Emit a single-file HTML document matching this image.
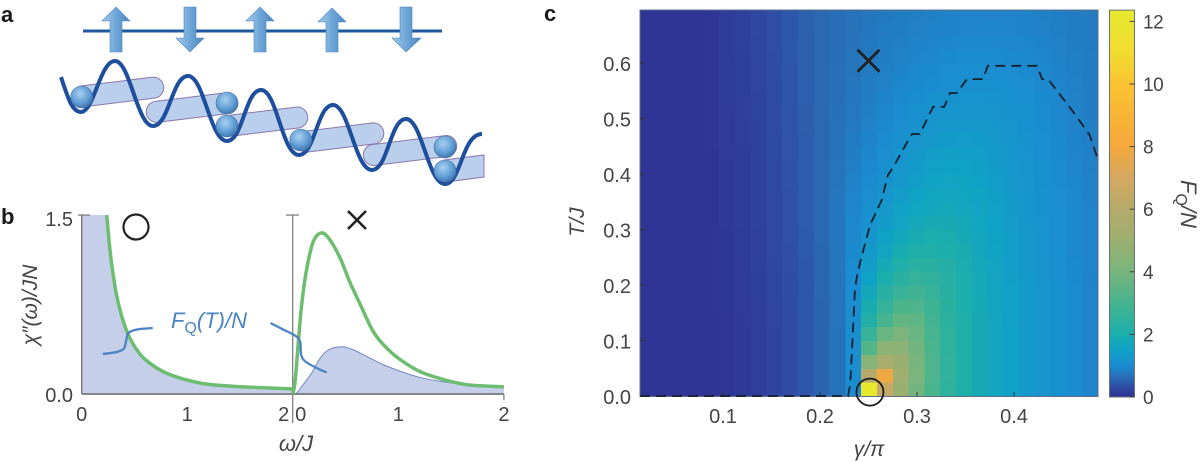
<!DOCTYPE html>
<html lang="en">
<head>
<meta charset="utf-8">
<title>Quantum Fisher information figure</title>
<style>
html,body{margin:0;padding:0;background:#fff;width:1200px;height:462px;overflow:hidden}
svg{display:block}
text{font-family:"Liberation Sans",sans-serif;fill:#444}
.lbl{font-size:20px}
.ital{font-style:italic}
.panel{font-size:22px;font-weight:bold;fill:#1a1a1a}
</style>
</head>
<body>
<svg id="fig" xmlns="http://www.w3.org/2000/svg" width="1200" height="462" viewBox="0 0 1200 462">
<defs>
<linearGradient id="arrowGrad" x1="0" x2="1" y1="0" y2="0"><stop offset="0" stop-color="#a4cae9"/><stop offset=".5" stop-color="#6ea6d8"/><stop offset="1" stop-color="#4a86c0"/></linearGradient>
<radialGradient id="ballGrad" cx=".42" cy=".35" r=".7"><stop offset="0" stop-color="#a9d0ef"/><stop offset=".6" stop-color="#5f9ed6"/><stop offset="1" stop-color="#3c6fa8"/></radialGradient>
<clipPath id="heatClip"><rect x="640" y="10" width="458" height="386"/></clipPath>
</defs>

<text class="panel" x="1" y="22">a</text>
<text class="panel" x="1" y="224">b</text>
<text class="panel" x="544" y="21">c</text>

<g>
  <g fill="#b9cfeb" stroke="#8b76ad" stroke-width="1">
    <rect x="72" y="81.5" width="92" height="21" rx="10.5" transform="rotate(-7 118 92)"/>
    <rect x="146" y="97" width="92" height="21" rx="10.5" transform="rotate(-7 192 107.5)"/>
    <rect x="222" y="111" width="86" height="21" rx="10.5" transform="rotate(-7 265 121.5)"/>
    <rect x="296" y="127" width="88" height="21" rx="10.5" transform="rotate(-7 340 137)"/>
    <rect x="363" y="140" width="94" height="21" rx="10.5" transform="rotate(-7 410 150.5)"/>
    <path d="M444 160 L484 155 L484 177 L446 182 Z"/>
  </g>
  <line x1="83" y1="31" x2="442" y2="31" stroke="#1f5aa0" stroke-width="3"/>
  <g fill="url(#arrowGrad)" stroke="#4a86c0" stroke-width=".6">
    <path d="M116 7 L130 21 L122 21 L122 52 L110 52 L110 21 L102 21 Z"/>
    <path d="M184 7 L196 7 L196 38 L204 38 L190 52 L176 38 L184 38 Z"/>
    <path d="M260 7 L274 21 L266 21 L266 52 L254 52 L254 21 L246 21 Z"/>
    <path d="M332 8 L346 22 L338 22 L338 52 L326 52 L326 22 L318 22 Z"/>
    <path d="M400 7 L412 7 L412 38 L421 38 L406 52 L392 38 L400 38 Z"/>
  </g>
  <path d="M61 77 C68 98 72 112 81 112 C94 112 100 61 115 61 C130 61 137 126 153 126 C169 126 172 76 188 76 C204 76 210 141 227 141 C243 141 245 90 261 90 C277 90 282 155 299 155 C315 155 317 105 333 105 C349 105 355 170 372 170 C388 170 390 119 406 119 C422 119 428 184 445 184 C461 184 462 134 482 134" fill="none" stroke="#1e4f9c" stroke-width="4"/>
  <g fill="url(#ballGrad)" stroke="#4d6f9c" stroke-width=".6">
    <circle cx="81.7" cy="97" r="11"/>
    <circle cx="227" cy="103" r="11"/>
    <circle cx="227" cy="126" r="11"/>
    <circle cx="300.7" cy="140" r="11"/>
    <circle cx="445" cy="147" r="11"/>
    <circle cx="445" cy="171" r="11"/>
  </g>
</g>

<g id="panelB"></g>
<g id="panelC"></g>
</svg>

<script>
/* ---------- panel b data ---------- */
const leftGreenOmega  = [0.237,0.27,0.30,0.33,0.38,0.44,0.50,0.60,0.80,1.12,1.44,2.0];
const leftGreenChi    = [1.5,1.19,0.99,0.83,0.65,0.50,0.40,0.29,0.176,0.092,0.064,0.042];
const rightGreenOmega = [0,0.022,0.054,0.085,0.133,0.196,0.275,0.354,0.449,0.54,0.64,0.765,0.89,1.02,1.2,1.4,1.65,2.0];
const rightGreenChi   = [0,0.1,0.44,0.75,1.05,1.28,1.35,1.29,1.14,0.94,0.75,0.52,0.385,0.287,0.19,0.128,0.078,0.06];
const rightFillOmega  = [0,0.04,0.1,0.18,0.26,0.34,0.465,0.575,0.7,0.86,1.02,1.2,1.4,1.65,2.0];
const rightFillChi    = [0,0.01,0.08,0.176,0.30,0.37,0.396,0.37,0.315,0.245,0.19,0.14,0.106,0.078,0.058];
const fqLeftOmega     = [0.2,0.332,0.40,0.42,0.442,0.52,0.673];
const fqLeftChi       = [0.335,0.352,0.38,0.44,0.51,0.54,0.553];
const fqRightOmega    = [-0.21,-0.09,0.022,0.07,0.08,0.117,0.227,0.322];
const fqRightChi      = [0.595,0.54,0.49,0.44,0.33,0.274,0.218,0.18];
const omegaTicks      = [0,1,2];
const chiTicks        = [0,1.5];
const chiTickLabels   = ["0.0","1.5"];

/* ---------- panel c data ---------- */
const gammaTicks = [0.1,0.2,0.3,0.4];
const gammaTickLabels = ["0.1","0.2","0.3","0.4"];
const tempTicks = [0,0.1,0.2,0.3,0.4,0.5,0.6];
const tempTickLabels = ["0.0","0.1","0.2","0.3","0.4","0.5","0.6"];
const colorbarTicks = [0,2,4,6,8,10,12];
const colorbarLabels = ["0","2","4","6","8","10","12"];
const gammaStart = 0.0144;
const gammaStep = 0.01629;
const tempStep = 0.025;
const cmapValues = [0,0.3,0.6,1,1.5,2,3,4,5,6,7,8,9,10,11,12.36];
const cmapColors = ["#2e3192","#2f4ba2","#2a6ab3","#1b8cd0","#10a2c6","#1aaeac","#45b48f","#78b57c","#9bb070","#b5aa6b","#d4a860","#f5a83c","#f8b435","#f9c330","#f0dc30","#e8e92f"];
const contourGamma = [0.0144,0.229,0.231,0.232,0.234,0.236,0.238,0.242,0.2515,0.2636,0.27,0.275,0.291,0.295,0.303,0.3165,0.328,0.334,0.341,0.3515,0.368,0.373,0.4237,0.429,0.435,0.461,0.478,0.4856];
const contourTemp  = [0,0,0.02,0.047,0.119,0.191,0.215,0.245,0.308,0.353,0.398,0.411,0.461,0.472,0.472,0.521,0.521,0.546,0.546,0.571,0.571,0.595,0.595,0.571,0.571,0.512,0.470,0.431];
const circleMarker = [0.2515,0.007];
const crossMarker = [0.25,0.604];

/* rows run from T=0 upward; columns from gamma=0.014 rightward */
const heatValues = [
[.05,.05,.05,.05,.05,.07,.1,.15,.22,.3,.42,.55,.7,1.0,12.3,6.5,5.0,3.9,3.1,2.5,2.1,1.85,1.65,1.48,1.33,1.2,1.1,1.0,.92],
[.05,.05,.05,.05,.05,.07,.1,.15,.22,.3,.42,.55,.7,1.05,6.0,7.8,5.2,4.1,3.2,2.55,2.1,1.85,1.65,1.48,1.33,1.2,1.1,1.0,.92],
[.05,.05,.05,.05,.05,.07,.1,.15,.22,.3,.42,.55,.7,1.05,4.4,5.5,5.0,4.0,3.2,2.55,2.1,1.85,1.65,1.48,1.33,1.2,1.1,1.0,.92],
[.05,.05,.05,.05,.05,.07,.1,.15,.22,.3,.42,.55,.7,1.05,3.3,4.6,4.6,3.9,3.1,2.5,2.1,1.85,1.65,1.48,1.33,1.2,1.1,1.0,.92],
[.05,.05,.05,.05,.05,.07,.1,.15,.22,.3,.42,.55,.7,1.05,2.7,3.7,4.1,3.7,3.0,2.5,2.1,1.85,1.65,1.48,1.33,1.2,1.1,1.0,.92],
[.05,.05,.05,.05,.05,.07,.1,.16,.23,.3,.42,.55,.72,1.05,2.2,3.0,3.6,3.5,2.9,2.45,2.1,1.85,1.65,1.46,1.32,1.2,1.08,1.0,.92],
[.05,.05,.05,.05,.05,.08,.11,.16,.23,.31,.43,.55,.72,1.05,1.9,2.6,3.1,3.2,2.8,2.4,2.05,1.82,1.63,1.46,1.32,1.2,1.08,1.0,.92],
[.05,.05,.05,.05,.05,.08,.11,.17,.24,.32,.43,.56,.72,1.02,1.7,2.3,2.7,2.9,2.65,2.35,2.05,1.8,1.62,1.45,1.32,1.2,1.08,1.0,.92],
[.05,.05,.05,.05,.05,.08,.12,.17,.24,.32,.44,.56,.73,1.0,1.5,2.0,2.4,2.6,2.5,2.3,2.0,1.78,1.6,1.44,1.31,1.19,1.07,.99,.91],
[.05,.05,.05,.05,.05,.09,.12,.18,.25,.33,.44,.57,.74,1.0,1.38,1.8,2.1,2.35,2.35,2.2,1.95,1.75,1.58,1.42,1.3,1.18,1.06,.98,.9],
[.05,.05,.05,.05,.05,.09,.13,.18,.26,.34,.45,.57,.74,.98,1.28,1.6,1.9,2.1,2.15,2.05,1.9,1.72,1.55,1.41,1.29,1.17,1.06,.97,.9],
[.05,.05,.05,.05,.05,.09,.13,.19,.26,.35,.45,.58,.75,.95,1.2,1.48,1.72,1.9,2.0,1.95,1.82,1.68,1.52,1.4,1.28,1.16,1.05,.97,.9],
[.05,.05,.05,.05,.05,.1,.14,.2,.27,.35,.46,.58,.75,.95,1.12,1.35,1.58,1.75,1.85,1.85,1.75,1.62,1.5,1.38,1.26,1.15,1.05,.97,.9],
[.05,.05,.05,.05,.05,.1,.14,.2,.28,.36,.46,.58,.75,.92,1.08,1.28,1.48,1.62,1.72,1.75,1.68,1.58,1.46,1.35,1.25,1.14,1.04,.96,.9],
[.05,.05,.05,.05,.05,.1,.14,.2,.28,.36,.46,.58,.74,.9,1.04,1.2,1.38,1.52,1.62,1.66,1.62,1.54,1.44,1.33,1.22,1.12,1.02,.95,.88],
[.05,.05,.05,.05,.05,.1,.14,.2,.28,.37,.47,.58,.73,.88,1.0,1.14,1.3,1.44,1.54,1.58,1.56,1.48,1.4,1.3,1.2,1.1,1.0,.94,.88],
[.05,.05,.05,.05,.05,.1,.14,.2,.28,.37,.47,.58,.72,.85,.97,1.08,1.22,1.36,1.45,1.5,1.5,1.44,1.36,1.27,1.18,1.08,1.0,.93,.87],
[.05,.05,.05,.05,.06,.11,.14,.2,.29,.38,.47,.58,.71,.83,.94,1.04,1.16,1.28,1.38,1.43,1.44,1.4,1.32,1.24,1.16,1.07,.99,.92,.86],
[.05,.05,.05,.05,.07,.12,.15,.21,.29,.38,.47,.58,.7,.81,.91,1.0,1.1,1.2,1.3,1.36,1.38,1.35,1.28,1.21,1.13,1.05,.98,.91,.85],
[.05,.05,.05,.05,.07,.12,.15,.21,.3,.39,.48,.58,.69,.79,.88,.97,1.05,1.14,1.22,1.28,1.3,1.29,1.24,1.18,1.1,1.03,.97,.9,.85],
[.05,.05,.05,.05,.07,.12,.16,.22,.3,.39,.48,.58,.68,.77,.86,.94,1.01,1.08,1.15,1.2,1.23,1.22,1.19,1.14,1.08,1.01,.95,.89,.84],
[.05,.05,.05,.05,.07,.13,.16,.22,.31,.4,.49,.58,.67,.75,.84,.91,.98,1.03,1.08,1.13,1.16,1.16,1.14,1.1,1.05,.99,.94,.88,.84],
[.05,.05,.05,.05,.07,.13,.17,.23,.31,.4,.49,.58,.66,.74,.82,.88,.94,.99,1.03,1.07,1.09,1.1,1.09,1.06,1.02,.97,.92,.87,.83],
[.05,.05,.05,.05,.07,.13,.17,.23,.32,.41,.5,.58,.66,.73,.8,.86,.91,.96,.99,1.02,1.04,1.05,1.04,1.02,.99,.95,.91,.86,.82],
[.05,.05,.05,.05,.07,.14,.17,.24,.32,.42,.5,.58,.65,.72,.78,.84,.88,.92,.95,.98,1.0,1.0,1.0,.98,.96,.93,.89,.85,.82],
[.05,.05,.05,.05,.07,.14,.18,.24,.33,.42,.5,.58,.65,.71,.77,.82,.86,.89,.92,.94,.96,.96,.96,.95,.93,.91,.87,.84,.81],
[.05,.05,.05,.05,.07,.14,.18,.25,.33,.43,.51,.58,.65,.7,.75,.8,.84,.87,.89,.91,.92,.93,.93,.92,.91,.88,.86,.83,.8],
[.05,.05,.05,.05,.07,.14,.18,.25,.34,.43,.51,.58,.65,.7,.74,.78,.82,.85,.87,.89,.9,.9,.9,.9,.89,.87,.85,.82,.8]
];

const NS = "http://www.w3.org/2000/svg";
function mk(parent, tag, attrs, txt) {
  const el = document.createElementNS(NS, tag);
  for (const k in attrs) el.setAttribute(k, attrs[k]);
  if (txt !== undefined) el.textContent = txt;
  parent.appendChild(el);
  return el;
}
function smooth(pts) {
  let d = "M" + pts[0][0].toFixed(2) + " " + pts[0][1].toFixed(2);
  for (let i = 0; i < pts.length - 1; i++) {
    const p0 = pts[Math.max(i - 1, 0)], p1 = pts[i], p2 = pts[i + 1], p3 = pts[Math.min(i + 2, pts.length - 1)];
    const c1x = p1[0] + (p2[0] - p0[0]) / 6, c1y = p1[1] + (p2[1] - p0[1]) / 6;
    const c2x = p2[0] - (p3[0] - p1[0]) / 6, c2y = p2[1] - (p3[1] - p1[1]) / 6;
    d += " C" + c1x.toFixed(2) + " " + c1y.toFixed(2) + " " + c2x.toFixed(2) + " " + c2y.toFixed(2) + " " + p2[0].toFixed(2) + " " + p2[1].toFixed(2);
  }
  return d;
}

/* ---------- panel b ---------- */
const pb = document.getElementById("panelB");
const xLeft = w => 81.7 + w * 105.5;
const xRight = w => 292.7 + w * 105.6;
const yChi = c => 394 - c * 119.3;
const ptsOf = (xs, ys, fx) => xs.map((v, i) => [fx(v), yChi(ys[i])]);

const leftGreen = ptsOf(leftGreenOmega, leftGreenChi, xLeft);
const rightGreen = ptsOf(rightGreenOmega, rightGreenChi, xRight);
const rightFill = ptsOf(rightFillOmega, rightFillChi, xRight);

const leftArea = mk(pb, "path", {d: "M" + xLeft(0) + " " + yChi(0) + " L" + xLeft(0) + " " + yChi(1.5) + " L" + leftGreen[0][0] + " " + yChi(1.5) + smooth(leftGreen).replace(/^M[^C]*/, " ") + " L" + xLeft(2) + " " + yChi(0) + " Z", fill: "#c6cfea"});



const rightArea = mk(pb, "path", {d: smooth(rightFill) + " L" + xRight(2) + " " + yChi(0) + " L" + xRight(0) + " " + yChi(0) + " Z", fill: "#c6cfea"});



const rightAreaEdge = mk(pb, "path", {d: smooth(rightFill), fill: "none", stroke: "#6f88c2", "stroke-width": 1});



const axisColor = "#777";
const bAxes = [
  [xLeft(0), yChi(1.5), xLeft(0), yChi(0), 1.4, 'left-y-axis'],
  [78, yChi(1.5), 90, yChi(1.5), 1.2, 'left-y-axis-top-tick'],
  [xRight(0), yChi(1.5), xRight(0), 423, 1.2, 'centre-divider-axis'],
  [286, yChi(1.5), 299, yChi(1.5), 1.2, 'centre-axis-top-tick'],
  [xLeft(0), yChi(0), xRight(2), yChi(0), 1.8, 'x-axis'],
  [xRight(2), yChi(0), xRight(2), 400, 1.2, 'x-axis-end-tick']
];
bAxes.forEach(a => {
  const ln = mk(pb, "line", {x1: a[0], y1: a[1], x2: a[2], y2: a[3], stroke: axisColor, "stroke-width": a[4]});
  
  
});

const greenL = mk(pb, "path", {d: smooth(leftGreen), fill: "none", stroke: "#6dbd70", "stroke-width": 3.5});


const greenR = mk(pb, "path", {d: smooth(rightGreen), fill: "none", stroke: "#6dbd70", "stroke-width": 3.5});


const fqL = mk(pb, "path", {d: smooth(ptsOf(fqLeftOmega, fqLeftChi, xLeft)), fill: "none", stroke: "#4a84c2", "stroke-width": 2.3});


const fqR = mk(pb, "path", {d: smooth(ptsOf(fqRightOmega, fqRightChi, xRight)), fill: "none", stroke: "#4a84c2", "stroke-width": 2.3});



omegaTicks.forEach(t => {
  const a = mk(pb, "text", {class: "lbl", x: t === 2 ? xLeft(t) - 9 : xLeft(t), y: 421, "text-anchor": "middle"}, String(t));
  
  
  const b = mk(pb, "text", {class: "lbl", x: t === 0 ? xRight(t) + 8 : xRight(t), y: 421, "text-anchor": "middle"}, String(t));
  
  
});
chiTicks.forEach((t, i) => {
  const a = mk(pb, "text", {class: "lbl", x: 73, y: yChi(t) + (t === 0 ? 8 : 11), "text-anchor": "end"}, chiTickLabels[i]);
  
  
});

const bx = mk(pb, "text", {class: "ital", x: 296, y: 451, "text-anchor": "middle", style: "font-size:22px"}, "ω/J");


const by = mk(pb, "text", {class: "ital", transform: "translate(37 305) rotate(-90)", "text-anchor": "middle", style: "font-size:21px"}, "χ″(ω)/JN");


const fqLabel = mk(pb, "text", {class: "ital", x: 171, y: 328, style: "font-size:22px;fill:#4a84c2"});


mk(fqLabel, "tspan", {style: "fill:#4a84c2"}, "F");
mk(fqLabel, "tspan", {dy: 5, style: "font-size:16px;font-style:normal;fill:#4a84c2"}, "Q");
mk(fqLabel, "tspan", {dy: -5, style: "fill:#4a84c2"}, "(T)/N");

const bCircle = mk(pb, "circle", {cx: 136, cy: 227, r: 12.5, fill: "none", stroke: "#222", "stroke-width": 2.2});


const bCross = mk(pb, "path", {d: "M348 211 L366 229 M366 211 L348 229", fill: "none", stroke: "#222", "stroke-width": 2.6});



/* ---------- panel c ---------- */
const pc = document.getElementById("panelC");
const xG = g => 723 + (g - 0.1) * 970;
const yT = t => 396 - t * 555;
const yCb = v => 397 - v * 31.3;
function hex(c) { return [1, 3, 5].map(i => parseInt(c.substr(i, 2), 16)); }
function colorOf(v) {
  if (v <= cmapValues[0]) return cmapColors[0];
  for (let i = 1; i < cmapValues.length; i++) {
    if (v <= cmapValues[i]) {
      const f = (v - cmapValues[i - 1]) / (cmapValues[i] - cmapValues[i - 1]);
      const a = hex(cmapColors[i - 1]), b = hex(cmapColors[i]);
      return "rgb(" + a.map((q, k) => Math.round(q + (b[k] - q) * f)).join(",") + ")";
    }
  }
  return cmapColors[cmapColors.length - 1];
}

const heatGroup = mk(pc, "g", {"clip-path": "url(#heatClip)", "shape-rendering": "crispEdges"});


heatValues.forEach((row, r) => {
  row.forEach((v, c) => {
    const x0 = xG(gammaStart + c * gammaStep), x1 = xG(gammaStart + (c + 1) * gammaStep);
    const y1 = yT(r * tempStep), y0 = yT((r + 1) * tempStep);
    const cell = mk(heatGroup, "rect", {x: x0.toFixed(2), y: y0.toFixed(2), width: (x1 - x0 + 0.5).toFixed(2), height: (y1 - y0 + 0.5).toFixed(2), fill: colorOf(v)});
    
    
  });
});
const heatFrame = mk(pc, "rect", {x: 640, y: 10, width: 458, height: 386.5, fill: "none", stroke: "#5f6f85", "stroke-width": 1});



gammaTicks.forEach((g, i) => {
  const t = mk(pc, "line", {x1: xG(g), x2: xG(g), y1: 396, y2: 392, stroke: "#333", "stroke-width": 1});
  
  
  const l = mk(pc, "text", {class: "lbl", x: xG(g), y: 423, "text-anchor": "middle"}, gammaTickLabels[i]);
  
  
});
tempTicks.forEach((tv, i) => {
  const t = mk(pc, "line", {x1: 640, x2: 645, y1: yT(tv), y2: yT(tv), stroke: "#333", "stroke-width": 1});
  
  
  const l = mk(pc, "text", {class: "lbl", x: 631, y: yT(tv) + 8, "text-anchor": "end"}, tempTickLabels[i]);
  
  
});

const cx = mk(pc, "text", {class: "ital", x: 869, y: 456, "text-anchor": "middle", style: "font-size:21px"}, "γ/π");


const cy = mk(pc, "text", {class: "ital", transform: "translate(584 222) rotate(-90)", "text-anchor": "middle", style: "font-size:21px"}, "T/J");



const contour = mk(pc, "polyline", {points: contourGamma.map((g, i) => xG(g).toFixed(1) + "," + yT(contourTemp[i]).toFixed(1)).join(" "), fill: "none", stroke: "#16202e", "stroke-width": 1.8, "stroke-dasharray": "10 6"});



const mCircle = mk(pc, "circle", {cx: xG(circleMarker[0]), cy: yT(circleMarker[1]), r: 13.5, fill: "none", stroke: "#1a1a1a", "stroke-width": 1.8});


const mx = xG(crossMarker[0]), my = yT(crossMarker[1]);
const mCross = mk(pc, "path", {d: "M" + (mx - 11) + " " + (my - 11) + " L" + (mx + 11) + " " + (my + 11) + " M" + (mx + 11) + " " + (my - 11) + " L" + (mx - 11) + " " + (my + 11), fill: "none", stroke: "#222", "stroke-width": 2.8});



/* colour bar */
const cbGrad = mk(document.querySelector("#fig defs"), "linearGradient", {id: "cbGrad", x1: 0, x2: 0, y1: 1, y2: 0});
cmapValues.forEach((v, i) => {
  mk(cbGrad, "stop", {offset: (v / cmapValues[cmapValues.length - 1]).toFixed(4), "stop-color": cmapColors[i]});
});
const cbRect = mk(pc, "rect", {x: 1109.5, y: yCb(12.36), width: 25, height: yCb(0) - yCb(12.36), fill: "url(#cbGrad)", stroke: "#6a6f70", "stroke-width": 1});


colorbarTicks.forEach((v, i) => {
  const t = mk(pc, "line", {x1: 1129.5, x2: 1134.5, y1: yCb(v), y2: yCb(v), stroke: "#444", "stroke-width": 1});
  
  
  const l = mk(pc, "text", {class: "lbl", x: 1143, y: yCb(v) + 7, style: "font-size:19px;letter-spacing:-.5px"}, colorbarLabels[i]);
  
  
});
const cbTitle = mk(pc, "text", {class: "ital", transform: "translate(1181 204) rotate(90)", "text-anchor": "middle", style: "font-size:22px"});


mk(cbTitle, "tspan", {}, "F");
mk(cbTitle, "tspan", {dy: 5, style: "font-size:16px;font-style:normal"}, "Q");
mk(cbTitle, "tspan", {dy: -5}, "/N");
</script>
</body>
</html>
